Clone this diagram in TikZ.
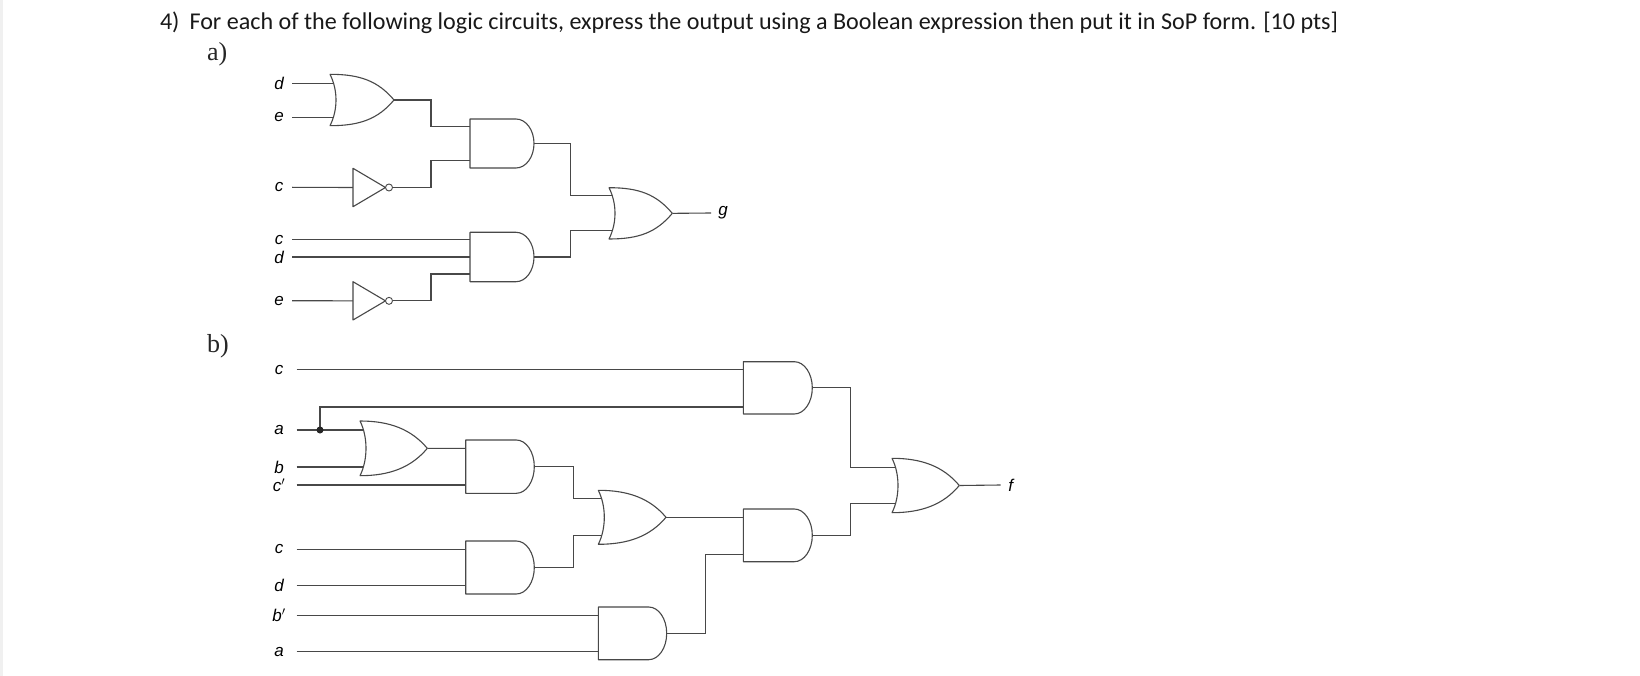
\documentclass[tikz,border=0pt]{standalone}
\usepackage{fontspec}
\setmainfont{Carlito}
\newfontfamily\lblfont{Liberation Sans}
\newfontfamily\partfont{Liberation Serif}
\pgfdeclarelayer{paper}
\pgfdeclarelayer{wires}
\pgfsetlayers{paper,wires,main}
\tikzset{
  x=1pt,y=-1pt,
  gatebox/.style={inner sep=0pt,outer sep=0pt,rectangle},
  gate/.style={draw=linecol,fill=white,line width=1.1pt,line join=round},
  wire/.style={draw=linecol,line width=1.1pt,line join=miter},
  lbl/.style={inner sep=0pt,outer sep=0pt,font=\lblfont\itshape\fontsize{17}{17}\selectfont,text=black},
  title/.style={inner sep=0pt,outer sep=0pt,anchor=base west,font=\fontsize{24.1}{26}\selectfont,text=black!90},
  part/.style={inner sep=0pt,outer sep=0pt,anchor=base west,font=\partfont\fontsize{26}{28}\selectfont,text=black!85},
}
\definecolor{linecol}{HTML}{484848}
\newcommand{\andg}[5]{%
  \node[gatebox,minimum width={(#4-#2)*1pt},minimum height={(#5-#3)*1pt}] (#1) at ({(#2+#4)/2},{(#3+#5)/2}) {};
  \draw[gate] (#1.north west) -- ([xshift=-18pt]#1.north east)
    arc[start angle=90,end angle=-90,x radius=18pt,y radius={(#5-#3)/2*1pt}] -- (#1.south west) -- cycle;
}
\newcommand{\org}[5]{%
  \node[gatebox,minimum width={(#4-#2)*1pt},minimum height={(#5-#3)*1pt}] (#1) at ({(#2+#4)/2},{(#3+#5)/2}) {};
  \draw[gate] (#1.north west) .. controls ([xshift=30pt]#1.north west) and ([xshift=-16pt,yshift=19pt]#1.east) .. (#1.east)
    .. controls ([xshift=-16pt,yshift=-19pt]#1.east) and ([xshift=30pt]#1.south west) .. (#1.south west)
    .. controls ([xshift=8pt,yshift=16pt]#1.south west) and ([xshift=8pt,yshift=-16pt]#1.north west) .. (#1.north west) -- cycle;
}
\newcommand{\notg}[5]{%
  \node[gatebox,minimum width={(#4-#2)*1pt},minimum height={(#5-#3)*1pt}] (#1) at ({(#2+#4)/2},{(#3+#5)/2}) {};
  \draw[gate] (#1.north west) -- (#1.east) -- (#1.south west) -- cycle;
  \node[circle,draw=linecol,fill=white,line width=0.9pt,inner sep=0pt,outer sep=0pt,minimum size=7pt,anchor=west] (#1b) at (#1.east) {};
}
\begin{document}
\begin{tikzpicture}
\useasboundingbox (0,0) rectangle (1640,676);
\begin{pgfonlayer}{paper}
\fill[white] (0,0) rectangle (1640,676);
\fill[black!6] (0,0) rectangle (3,676);
\end{pgfonlayer}
\node[title] (t4) at (160,30) {4)};
\node[title] (tq) at (189.5,30) {For each of the following logic circuits, express the output using a Boolean expression then put it in SoP form. [10 pts]};
\node[part] (ta) at (207,61) {a)};
\node[part] (tb) at (207,352) {b)};
% --- part a
\node[lbl,minimum width=26pt] (ad1) at (279,83.3) {d};
\node[lbl,minimum width=26pt] (ae1) at (279,117.3) {e};
\node[lbl,minimum width=26pt] (ac1) at (279,187.3) {c};
\node[lbl,minimum width=26pt] (ac2) at (279,239.7) {c};
\node[lbl,minimum width=26pt] (ad2) at (279,257) {d};
\node[lbl,minimum width=26pt] (ae2) at (279,300.7) {e};
\node[lbl,minimum width=24pt] (ag) at (723,213) {g};
\org{O1}{330}{74.3}{394}{125.7}
\notg{N1}{353}{168.3}{385.5}{206.7}
\notg{N2}{353}{281.7}{385.5}{320}
\andg{A1}{470}{119}{534}{168}
\andg{A2}{470}{232.3}{534}{281.7}
\org{O2}{609}{187.7}{672.3}{239}
\coordinate (ca) at (431,0);
\coordinate (cb) at (570.3,0);
\coordinate (A1a) at (470,126.7);
\coordinate (A1b) at (470,160.3);
\coordinate (A2c) at (470,274);
\coordinate (O2a) at (613,195.7);
\coordinate (O2b) at (613,230.7);
\begin{pgfonlayer}{wires}
\draw[wire] (ad1.east) -- (O1.west |- ad1.east) -- ++(5,0);
\draw[wire] (ae1.east) -- (O1.west |- ae1.east) -- ++(5,0);
\draw[wire] (ac1.east) -- (N1.west);
\draw[wire] (ae2.east) -- (N2.west);
\draw[wire] (ac2.east) -- (A2.west |- ac2.east);
\draw[wire] (ad2.east) -- (A2.west |- ad2.east);
\draw[wire] (O1.east) -| (ca |- A1a) -- (A1a);
\draw[wire] (N1b.east) -| (ca |- A1b) -- (A1b);
\draw[wire] (N2b.east) -| (ca |- A2c) -- (A2c);
\draw[wire] (A1.east) -| (cb |- O2a) -- (O2a);
\draw[wire] (A2.east) -| (cb |- O2b) -- (O2b);
\draw[wire] (O2.east) -- (ag.west);
\end{pgfonlayer}
% --- part b
\node[lbl,minimum width=35.4pt] (bc1) at (279,369.7) {c};
\node[lbl,minimum width=35.4pt] (ba1) at (279,430) {a};
\node[lbl,minimum width=35.4pt] (bb1) at (279,467) {b};
\node[lbl,minimum width=35.4pt] (bc2) at (279,485) {c$'$};
\node[lbl,minimum width=35.4pt] (bc3) at (279,549.3) {c};
\node[lbl,minimum width=35.4pt] (bd1) at (279,585.7) {d};
\node[lbl,minimum width=35.4pt] (bb2) at (279,615.3) {b$'$};
\node[lbl,minimum width=35.4pt] (ba2) at (279,651.7) {a};
\node[lbl,minimum width=20pt] (bf) at (1010.7,485) {f};
\node[circle,fill=black!85,inner sep=0pt,minimum size=7pt] (dot) at (320,430) {};
\andg{B1}{743.3}{361.7}{812.3}{414}
\andg{B2}{465.7}{440}{534.3}{493.3}
\andg{B3}{465.7}{541}{534.3}{594}
\andg{B4}{743.3}{509}{812.3}{561.7}
\andg{B5}{598.3}{607}{666.7}{659.7}
\org{P1}{360}{421}{427.3}{475.7}
\org{P2}{598.3}{490.3}{666}{544.3}
\org{P3}{892}{458.3}{959.3}{512.7}
\coordinate (cc) at (573.3,0);
\coordinate (cd) at (705.3,0);
\coordinate (ce) at (850.3,0);
\coordinate (B1b) at (743.3,407);
\coordinate (B2a) at (465.7,448.3);
\coordinate (B4b) at (743.3,554.3);
\coordinate (P2a) at (602,498.3);
\coordinate (P2b) at (602,535.7);
\coordinate (P3a) at (896,467.3);
\coordinate (P3b) at (896,503.7);
\begin{pgfonlayer}{wires}
\draw[wire] (bc1.east) -- (B1.west |- bc1.east);
\draw[wire] (ba1.east) -- (P1.west |- ba1.east) -- ++(5,0);
\draw[wire] (dot.center) |- (B1b);
\draw[wire] (bb1.east) -- (P1.west |- bb1.east) -- ++(5,0);
\draw[wire] (bc2.east) -- (B2.west |- bc2.east);
\draw[wire] (bc3.east) -- (B3.west |- bc3.east);
\draw[wire] (bd1.east) -- (B3.west |- bd1.east);
\draw[wire] (bb2.east) -- (B5.west |- bb2.east);
\draw[wire] (ba2.east) -- (B5.west |- ba2.east);
\draw[wire] (P1.east) -- (B2a);
\draw[wire] (B2.east) -| (cc |- P2a) -- (P2a);
\draw[wire] (B3.east) -| (cc |- P2b) -- (P2b);
\draw[wire] (P2.east) -- (B4.west |- P2.east);
\draw[wire] (B5.east) -| (cd |- B4b) -- (B4b);
\draw[wire] (B1.east) -| (ce |- P3a) -- (P3a);
\draw[wire] (B4.east) -| (ce |- P3b) -- (P3b);
\draw[wire] (P3.east) -- (bf.west);
\end{pgfonlayer}
\end{tikzpicture}
\end{document}
